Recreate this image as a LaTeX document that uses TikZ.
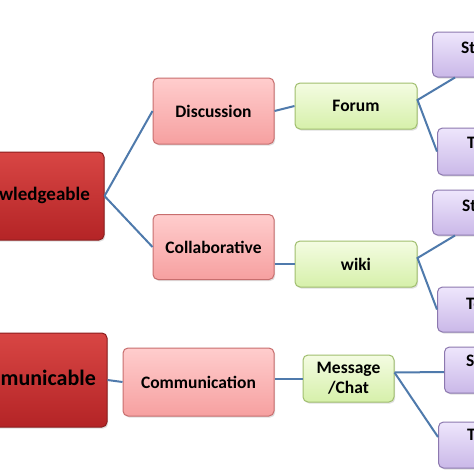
\documentclass[tikz,border=0pt]{standalone}
\usepackage{fontspec}
\setmainfont{Carlito}
\usetikzlibrary{calc,shadows}
\definecolor{linec}{RGB}{79,122,172}
\definecolor{redtop}{RGB}{216,70,68}
\definecolor{redbot}{RGB}{180,36,38}
\definecolor{redln}{RGB}{140,30,30}
\definecolor{pinktop}{RGB}{255,205,205}
\definecolor{pinkbot}{RGB}{246,160,160}
\definecolor{pinkln}{RGB}{200,110,110}
\definecolor{greentop}{RGB}{244,252,226}
\definecolor{greenbot}{RGB}{214,240,170}
\definecolor{greenln}{RGB}{160,190,110}
\definecolor{purptop}{RGB}{238,230,252}
\definecolor{purpbot}{RGB}{202,184,232}
\definecolor{purpln}{RGB}{140,120,175}
\tikzset{
  box/.style={rounded corners=5pt, inner sep=0pt, line width=1pt, align=center,
    font=\bfseries\fontsize{17.5}{20}\selectfont,
    drop shadow={opacity=0.25, shadow xshift=1.2pt, shadow yshift=-1.5pt}},
  redbox/.style={box, draw=redln, top color=redtop, bottom color=redbot},
  pinkbox/.style={box, draw=pinkln, top color=pinktop, bottom color=pinkbot},
  greenbox/.style={box, draw=greenln, top color=greentop, bottom color=greenbot},
  purpbox/.style={box, draw=purpln, top color=purptop, bottom color=purpbot,
    minimum width=100pt, anchor=west},
  ptext/.style={font=\bfseries\fontsize{17.5}{20}\selectfont, inner sep=0pt, anchor=mid west},
  rtext/.style={inner sep=0pt, anchor=mid east},
  conn/.style={draw=linec, line width=2pt}
}
\begin{document}
\begin{tikzpicture}[x=1pt,y=-1pt]
\useasboundingbox (0,0) rectangle (474,474);
\fill[white] (0,0) rectangle (474,474);
\clip (0,0) rectangle (474,474);
% red
\node[redbox, minimum width=152pt, minimum height=88pt] (K) at (28,196) {};
\node[rtext, font=\bfseries\fontsize{19}{22}\selectfont] (Kt) at (90,198.5) {Knowledgeable};
\node[redbox, minimum width=146pt, minimum height=94pt] (C) at (34,380) {};
\node[rtext, font=\bfseries\fontsize{22}{24}\selectfont] (Ct) at (96,383) {Communicable};
% pink
\node[pinkbox, minimum width=121pt, minimum height=66pt] (D) at (213.5,111) {Discussion};
\node[pinkbox, minimum width=121pt, minimum height=65pt] (Co) at (213.5,247) {Collaborative};
\node[pinkbox, minimum width=151pt, minimum height=68pt] (Cm) at (198.5,382) {Communication};
% green
\node[greenbox, minimum width=122pt, minimum height=46pt] (F) at (356,106) {Forum};
\node[greenbox, minimum width=122pt, minimum height=46pt] (W) at (356,264) {wiki};
\node[greenbox, minimum width=91pt, minimum height=47pt] (M) at (348.5,378.5) {Message\\/Chat};
% purple
\node[purpbox, minimum height=45pt] (P1) at (432,54.5) {};
\node[purpbox, minimum height=47pt] (P2) at (437,151.5) {};
\node[purpbox, minimum height=45pt] (P3) at (432,212.5) {};
\node[purpbox, minimum height=45pt] (P4) at (437,309.5) {};
\node[purpbox, minimum height=46pt] (P5) at (444,370) {};
\node[purpbox, minimum height=46pt] (P6) at (438,445) {};
\node[ptext] (t1) at (461,51) {Student};
\node[ptext] (t2) at (467,146) {Teacher};
\node[ptext] (t3) at (462,209) {Student};
\node[ptext] (t4) at (466,307) {Teacher};
\node[ptext] (t5) at (466,364) {Student};
\node[ptext] (t6) at (467,438) {Teacher};
% connectors
\draw[conn] (K.east) -- (D.west);
\draw[conn] (K.east) -- (Co.west);
\draw[conn] (C.east) -- (Cm.west);
\draw[conn] (D.east) -- (F.west);
\draw[conn] (Co.east |- W.west) -- (W.west);
\draw[conn] (Cm.east |- M.west) -- (M.west);
\draw[conn] ($(P1.south west)+(23,0)$) -- ($(F.east)+(0,-6)$) -- (P2.west);
\draw[conn] ($(P3.south west)+(23,0)$) -- ($(W.east)+(0,-6)$) -- (P4.west);
\draw[conn] ($(M.east)+(0,-6)$) -- ($(P5.west)+(0,2)$);
\draw[conn] ($(M.east)+(0,-6)$) -- ($(P6.west)+(0,-8)$);
\end{tikzpicture}
\end{document}
